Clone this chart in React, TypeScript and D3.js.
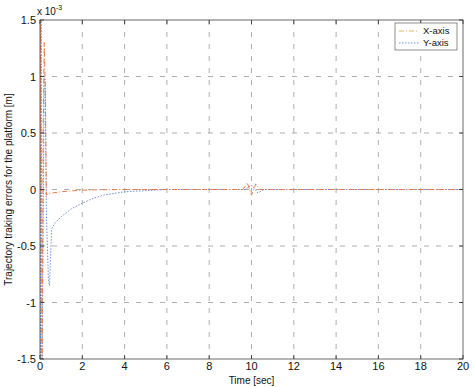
import React from "react";
import * as d3 from "d3";

const xTicks = [0, 2, 4, 6, 8, 10, 12, 14, 16, 18, 20];
const yTicks = [-1.5, -1, -0.5, 0, 0.5, 1, 1.5];
const yTickLabels = ["-1.5", "-1", "-0.5", "0", "0.5", "1", "1.5"];

const seriesNames = ["X-axis", "Y-axis"];

const tX = [0, 0.03, 0.06, 0.1, 0.15, 0.2, 0.25, 0.3, 0.4, 0.6, 1, 1.5, 2, 3, 4, 6, 9.6, 9.8, 10, 10.2, 10.4, 11, 20];
const vX = [0, 1.6, -1.6, -1.6, 0.5, 1.3, 0.9, -0.05, -0.04, -0.03, -0.02, -0.012, -0.006, -0.002, 0, 0, 0, 0.06, -0.05, 0.05, 0, 0, 0];

const tY = [0, 0.02, 0.05, 0.1, 0.2, 0.25, 0.3, 0.4, 0.45, 0.55, 0.7, 1, 1.5, 2, 2.5, 3, 4, 5, 6, 9.7, 10, 10.3, 10.6, 20];
const vY = [0, -1.6, 1.6, -1.6, 1.0, 0.95, -0.2, -0.8, -0.85, -0.35, -0.3, -0.24, -0.17, -0.12, -0.08, -0.05, -0.02, -0.01, 0, 0, 0.04, -0.03, 0, 0];

const W = 474, H = 387;
const L = 40, R = 463, T = 20, B = 359;

export default function App() {
  const x = d3.scaleLinear().domain([0, 20]).range([L, R]);
  const y = d3.scaleLinear().domain([-1.5, 1.5]).range([B, T]);
  const line = d3.line<[number, number]>().x(d => x(d[0])).y(d => y(d[1]));
  const dX = line(tX.map((t, i) => [t, vX[i]] as [number, number])) || "";
  const dY = line(tY.map((t, i) => [t, vY[i]] as [number, number])) || "";
  const font = "'Liberation Sans', Arial, sans-serif";
  const axisCol = "#444";
  const gridCol = "#999";
  return (
    <svg width={W} height={H} style={{ position: "absolute", left: 0, top: 0, background: "#fff" }} fontFamily={font}>
      <defs>
        <clipPath id="plot"><rect x={L} y={T} width={R - L} height={B - T} /></clipPath>
      </defs>
      <rect x={0} y={0} width={W} height={H} fill="#fff" />
      {xTicks.slice(1, -1).map(t => (
        <line key={"gx" + t} x1={x(t)} x2={x(t)} y1={T} y2={B} stroke={gridCol} strokeWidth={0.8} strokeDasharray="5,7" />
      ))}
      {yTicks.slice(1, -1).map(t => (
        <line key={"gy" + t} x1={L} x2={R} y1={y(t)} y2={y(t)} stroke={gridCol} strokeWidth={0.8} strokeDasharray="5,7" />
      ))}
      <g clipPath="url(#plot)">
        <path d={dY} fill="none" stroke="#6f8fe0" strokeWidth={1} strokeDasharray="1.5,1.5" />
        <path d={dX} fill="none" stroke="#e87a4a" strokeWidth={1} strokeDasharray="5,2,1,2" />
      </g>
      <rect x={L} y={T} width={R - L} height={B - T} fill="none" stroke={axisCol} strokeWidth={0.8} />
      {xTicks.map(t => (
        <g key={"tx" + t}>
          <line x1={x(t)} x2={x(t)} y1={B} y2={B - 4} stroke={axisCol} />
          <line x1={x(t)} x2={x(t)} y1={T} y2={T + 4} stroke={axisCol} />
          <text x={x(t)} y={B + 11} fontSize={11} textAnchor="middle" fill="#111">{t}</text>
        </g>
      ))}
      {yTicks.map((t, i) => (
        <g key={"ty" + t}>
          <line x1={L} x2={L + 4} y1={y(t)} y2={y(t)} stroke={axisCol} />
          <line x1={R} x2={R - 4} y1={y(t)} y2={y(t)} stroke={axisCol} />
          <text x={L - 4} y={y(t) + 4} fontSize={11} textAnchor="end" fill="#111">{yTickLabels[i]}</text>
        </g>
      ))}
      <text x={L - 3} y={T - 5} fontSize={10} fill="#111">x 10<tspan dy={-5} fontSize={7}>-3</tspan></text>
      <text x={(L + R) / 2} y={H - 3} fontSize={10} textAnchor="middle" fill="#111">Time [sec]</text>
      <text transform={`translate(12, ${(T + B) / 2}) rotate(-90)`} fontSize={10} textAnchor="middle" fill="#111">Trajectory traking errors for the platform [m]</text>
      <g>
        <rect x={395} y={23} width={62} height={27} fill="#fff" stroke={axisCol} strokeWidth={0.6} />
        <line x1={399} x2={419} y1={31} y2={31} stroke="#e8b060" strokeWidth={1} strokeDasharray="5,2,1,2" />
        <text x={423} y={34} fontSize={9.5} fill="#111">{seriesNames[0]}</text>
        <line x1={399} x2={419} y1={43} y2={43} stroke="#6f8fe0" strokeWidth={1} strokeDasharray="1.5,1.5" />
        <text x={423} y={46} fontSize={9.5} fill="#111">{seriesNames[1]}</text>
      </g>
    </svg>
  );
}
